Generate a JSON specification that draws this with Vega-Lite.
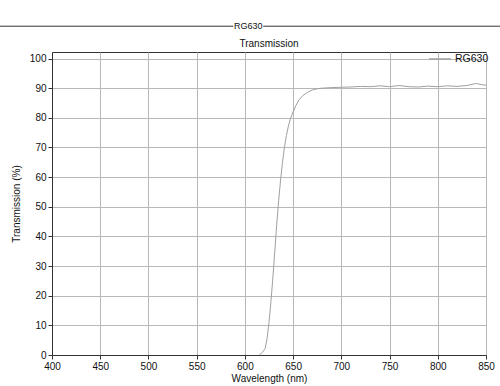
{
  "$schema": "https://vega.github.io/schema/vega-lite/v6.json",
  "width": 434,
  "height": 303,
  "autosize": {"type": "none"},
  "padding": {"left": 52, "top": 52, "right": 14, "bottom": 31},
  "background": "white",
  "config": {
    "font": "Liberation Sans",
    "view": {"stroke": "#333", "strokeWidth": 1},
    "axis": {
      "labelFont": "Liberation Sans",
      "titleFont": "Liberation Sans",
      "labelFontSize": 10,
      "titleFontSize": 10,
      "labelColor": "#111",
      "titleColor": "#111",
      "titleFontWeight": "normal",
      "gridColor": "#b8b8b8",
      "gridOpacity": 1,
      "domainColor": "#333",
      "tickColor": "#333",
      "tickSize": 4,
      "labelFlush": false,
      "labelOverlap": false
    },
    "legend": {"labelFontSize": 10.5, "labelFont": "Liberation Sans", "labelColor": "#111"}
  },
  "datasets": {
    "curve": [
      {"wl": 615, "t": 0, "s": "RG630"},
      {"wl": 618, "t": 0.8, "s": "RG630"},
      {"wl": 621, "t": 2.2, "s": "RG630"},
      {"wl": 623, "t": 5.5, "s": "RG630"},
      {"wl": 625, "t": 11, "s": "RG630"},
      {"wl": 627, "t": 18, "s": "RG630"},
      {"wl": 629, "t": 26, "s": "RG630"},
      {"wl": 631, "t": 35, "s": "RG630"},
      {"wl": 633, "t": 44, "s": "RG630"},
      {"wl": 635, "t": 52, "s": "RG630"},
      {"wl": 637, "t": 59, "s": "RG630"},
      {"wl": 639, "t": 65, "s": "RG630"},
      {"wl": 641, "t": 70, "s": "RG630"},
      {"wl": 643, "t": 74, "s": "RG630"},
      {"wl": 645, "t": 77, "s": "RG630"},
      {"wl": 647, "t": 79.5, "s": "RG630"},
      {"wl": 650, "t": 82, "s": "RG630"},
      {"wl": 653, "t": 84.2, "s": "RG630"},
      {"wl": 656, "t": 86, "s": "RG630"},
      {"wl": 660, "t": 87.5, "s": "RG630"},
      {"wl": 665, "t": 88.6, "s": "RG630"},
      {"wl": 670, "t": 89.4, "s": "RG630"},
      {"wl": 675, "t": 89.8, "s": "RG630"},
      {"wl": 680, "t": 90.0, "s": "RG630"},
      {"wl": 690, "t": 90.2, "s": "RG630"},
      {"wl": 700, "t": 90.3, "s": "RG630"},
      {"wl": 710, "t": 90.4, "s": "RG630"},
      {"wl": 720, "t": 90.6, "s": "RG630"},
      {"wl": 730, "t": 90.5, "s": "RG630"},
      {"wl": 740, "t": 90.8, "s": "RG630"},
      {"wl": 750, "t": 90.5, "s": "RG630"},
      {"wl": 760, "t": 90.9, "s": "RG630"},
      {"wl": 770, "t": 90.5, "s": "RG630"},
      {"wl": 780, "t": 90.4, "s": "RG630"},
      {"wl": 790, "t": 90.7, "s": "RG630"},
      {"wl": 800, "t": 90.5, "s": "RG630"},
      {"wl": 810, "t": 90.8, "s": "RG630"},
      {"wl": 820, "t": 90.6, "s": "RG630"},
      {"wl": 830, "t": 90.9, "s": "RG630"},
      {"wl": 840, "t": 91.6, "s": "RG630"},
      {"wl": 845, "t": 91.2, "s": "RG630"},
      {"wl": 850, "t": 91.0, "s": "RG630"}
    ],
    "header": [
      {"wl": 346, "wl2": 588, "t": 110.9},
      {"wl": 619, "wl2": 865, "t": 110.9}
    ],
    "headerText": [
      {"wl": 603.5, "t": 110.9, "label": "RG630", "size": 9},
      {"wl": 625, "t": 104.8, "label": "Transmission", "size": 10}
    ]
  },
  "encoding": {
    "x": {
      "field": "wl", "type": "quantitative",
      "scale": {"domain": [400, 850], "nice": false},
      "axis": {"values": [400, 450, 500, 550, 600, 650, 700, 750, 800, 850], "title": "Wavelength (nm)", "titlePadding": 2, "labelPadding": 2}
    },
    "y": {
      "field": "t", "type": "quantitative",
      "scale": {"domain": [0, 102.2], "nice": false},
      "axis": {"values": [0, 10, 20, 30, 40, 50, 60, 70, 80, 90, 100], "title": "Transmission (%)", "titlePadding": 8, "labelPadding": 2}
    }
  },
  "layer": [
    {
      "data": {"name": "curve"},
      "mark": {"type": "line", "strokeWidth": 1, "clip": true},
      "encoding": {
        "color": {
          "field": "s", "type": "nominal",
          "scale": {"range": ["#a0a0a0"]},
          "legend": {
            "title": null,
            "orient": "none",
            "legendX": 376,
            "legendY": -5,
            "symbolType": "stroke",
            "symbolSize": 484,
            "symbolStrokeWidth": 1.5,
            "labelFontSize": 10.5,
            "labelOffset": 3,
            "padding": 0
          }
        }
      }
    },
    {
      "data": {"name": "header"},
      "mark": {"type": "rule", "color": "#333", "strokeWidth": 1, "clip": false},
      "encoding": {
        "x2": {"field": "wl2"}
      }
    },
    {
      "data": {"name": "headerText"},
      "mark": {"type": "text", "color": "#111", "clip": false, "font": "Liberation Sans"},
      "encoding": {
        "text": {"field": "label"},
        "size": {"field": "size", "type": "quantitative", "scale": null, "legend": null}
      }
    }
  ]
}
